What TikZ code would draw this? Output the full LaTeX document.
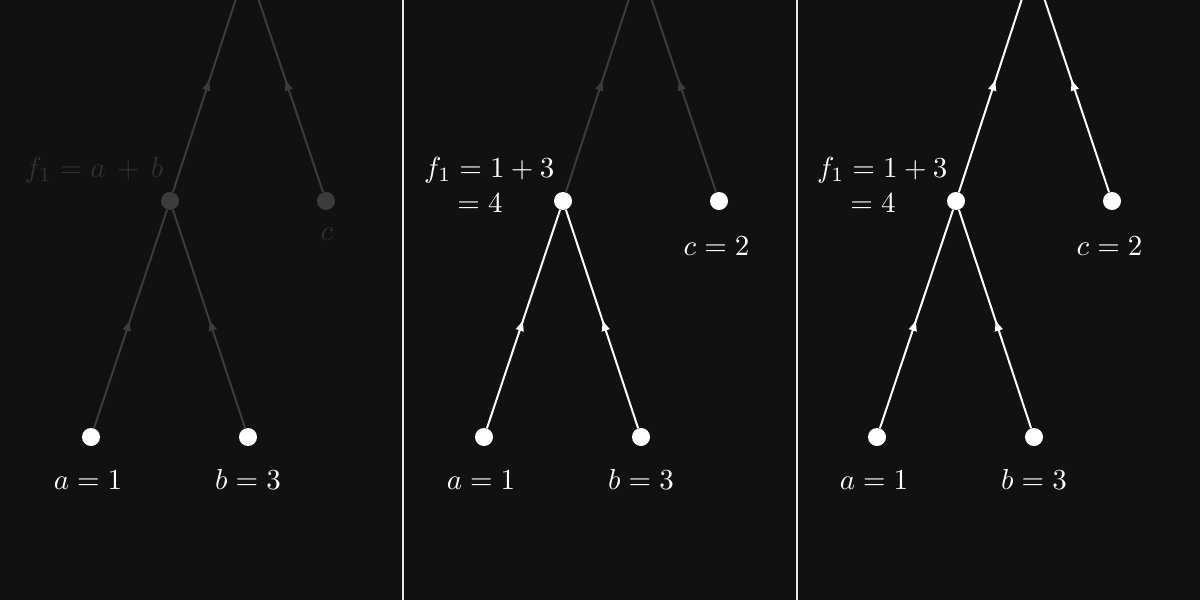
\documentclass[tikz,border=0pt]{standalone}
\usepackage{graphicx}
\usetikzlibrary{arrows.meta,decorations.markings}
\definecolor{bg}{HTML}{111111}
\definecolor{dimline}{HTML}{3C3C3C}
\definecolor{dimnode}{HTML}{3C3C3C}
\definecolor{dimtext}{HTML}{303030}
\definecolor{divider}{HTML}{E6E6E6}
\newcommand{\mylbl}[1]{\scalebox{2.9}{$#1$}}
\begin{document}
\begin{tikzpicture}[x=1pt,y=-1pt,
  vert/.style={circle,fill=#1,inner sep=0pt,minimum size=18pt},
  edge/.style={draw=#1,line width=2pt,postaction={decorate},
    decoration={markings,mark=at position 0.5 with {\arrow[#1]{Latex[length=12pt,width=9pt]}}}},
  lab/.style={text=#1,inner sep=0pt,anchor=base},
  labw/.style={text=#1,inner sep=0pt,anchor=base west},
  sep/.style={draw=divider,line width=2pt}]
\useasboundingbox (0,0) rectangle (1200,600);
\fill[bg] (0,0) rectangle (1200,600);
\clip (0,0) rectangle (1200,600);

% ---------- panel 1 ----------
\node[vert=white] (a1) at (91,437) {};
\node[vert=white] (b1) at (248,437) {};
\node[vert=dimnode] (f1) at (170,201) {};
\node[vert=dimnode] (c1) at (326,201) {};
\coordinate (t1) at (247,-35);
\draw[edge=dimline] (a1) -- (f1);
\draw[edge=dimline] (b1) -- (f1);
\draw[edge=dimline] (f1) -- (t1);
\draw[edge=dimline] (c1) -- (t1);
\node[lab=white] (la1) at (88,489) {\mylbl{a=1}};
\node[lab=white] (lb1) at (248,489) {\mylbl{b=3}};
\node[lab=dimtext] (lf1) at (94,177) {\mylbl{f_1 = a \,+\, b}};
\node[lab=dimtext] (lc1) at (327,240) {\mylbl{c}};

% ---------- panel 2 ----------
\begin{scope}[xshift=393pt]
\node[vert=white] (a2) at (91,437) {};
\node[vert=white] (b2) at (248,437) {};
\node[vert=white] (f2) at (170,201) {};
\node[vert=white] (c2) at (326,201) {};
\coordinate (t2) at (247,-35);
\draw[edge=white] (a2) -- (f2);
\draw[edge=white] (b2) -- (f2);
\draw[edge=dimline] (f2) -- (t2);
\draw[edge=dimline] (c2) -- (t2);
\node[lab=white] (la2) at (88,489) {\mylbl{a=1}};
\node[lab=white] (lb2) at (248,489) {\mylbl{b=3}};
\node[labw=white] (lf2) at (31,177) {\mylbl{f_1 = 1 + 3}};
\node[labw=white] (lg2) at (29,212) {\mylbl{\phantom{f_1} = 4}};
\node[lab=white] (lc2) at (323.5,255) {\mylbl{c=2}};
\end{scope}

% ---------- panel 3 ----------
\begin{scope}[xshift=786pt]
\node[vert=white] (a3) at (91,437) {};
\node[vert=white] (b3) at (248,437) {};
\node[vert=white] (f3) at (170,201) {};
\node[vert=white] (c3) at (326,201) {};
\coordinate (t3) at (247,-35);
\draw[edge=white] (a3) -- (f3);
\draw[edge=white] (b3) -- (f3);
\draw[edge=white] (f3) -- (t3);
\draw[edge=white] (c3) -- (t3);
\node[lab=white] (la3) at (88,489) {\mylbl{a=1}};
\node[lab=white] (lb3) at (248,489) {\mylbl{b=3}};
\node[labw=white] (lf3) at (31,177) {\mylbl{f_1 = 1 + 3}};
\node[labw=white] (lg3) at (29,212) {\mylbl{\phantom{f_1} = 4}};
\node[lab=white] (lc3) at (323.5,255) {\mylbl{c=2}};
\end{scope}

% ---------- dividers ----------
\coordinate (d1t) at (403,0);
\coordinate (d1b) at (403,600);
\coordinate (d2t) at (797,0);
\coordinate (d2b) at (797,600);
\draw[sep] (d1t) -- (d1b);
\draw[sep] (d2t) -- (d2b);
\end{tikzpicture}
\end{document}
